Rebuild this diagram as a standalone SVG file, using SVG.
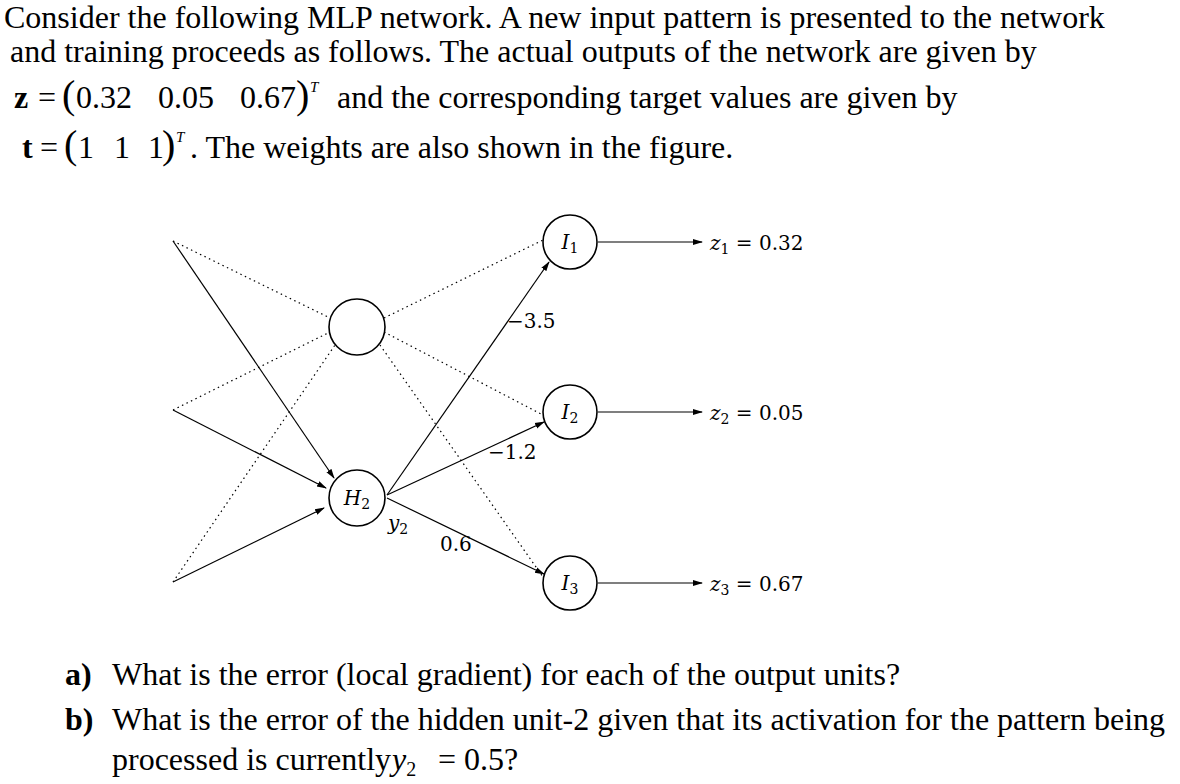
<svg xmlns="http://www.w3.org/2000/svg" width="1180" height="784" viewBox="0 0 1180 784">
<style>
.t{font-family:"Liberation Serif",serif;font-size:32px;fill:#000}
.m{font-family:"DejaVu Serif","Liberation Serif",serif;font-size:20px;fill:#000}
.n{fill:#fff;stroke:#000;stroke-width:1.6}
.s{stroke:#000;stroke-width:1.2;fill:none}
.d{stroke:#000;stroke-width:1.2;fill:none;stroke-dasharray:1.5 3.5}
</style>
<defs><marker id="a" markerWidth="10" markerHeight="8" refX="9" refY="4" orient="auto" markerUnits="userSpaceOnUse"><path d="M0,1 L10,4 L0,7 Z" fill="#000"/></marker></defs>
<rect width="1180" height="784" fill="#fff"/>
<text class="t" x="4" y="28">Consider the following MLP network. A new input pattern is presented to the network</text>
<text class="t" x="10" y="62">and training proceeds as follows. The actual outputs of the network are given by</text>
<text class="t" y="108"><tspan x="14" font-weight="bold">z</tspan><tspan x="38">=</tspan><tspan x="62" font-size="40">(</tspan><tspan x="76">0.32</tspan><tspan x="158">0.05</tspan><tspan x="240">0.67</tspan><tspan x="296" font-size="40">)</tspan><tspan x="310" font-size="15" dy="-16" font-style="italic">T</tspan><tspan x="337" dy="16">and the corresponding target values are given by</tspan></text>
<text class="t" y="158"><tspan x="22" font-weight="bold">t</tspan><tspan x="40">=</tspan><tspan x="64" font-size="40">(</tspan><tspan x="78">1</tspan><tspan x="114">1</tspan><tspan x="148">1</tspan><tspan x="162" font-size="40">)</tspan><tspan x="176" font-size="15" dy="-16" font-style="italic">T</tspan><tspan x="190" dy="16">. The weights are also shown in the figure.</tspan></text>
<g id="connectors">
<path class="d" d="M173,241 L330,318 M173,410 L330,332 M173,582 L335,345 M384,318 L543,240 M384,332 L543,415 M380,345 L543,577"/>
<path class="s" marker-end="url(#a)" d="M173,241 L334,478"/>
<path class="s" marker-end="url(#a)" d="M173,410 L326,488"/>
<path class="s" marker-end="url(#a)" d="M173,582 L324,508"/>
<path class="s" marker-end="url(#a)" d="M387,495 L549,262"/>
<path class="s" marker-end="url(#a)" d="M387,495 L544,422"/>
<path class="s" marker-end="url(#a)" d="M387,498 L544,574"/>
<path class="s" marker-end="url(#a)" d="M598,242 L702,242"/>
<path class="s" marker-end="url(#a)" d="M598,412 L702,412"/>
<path class="s" marker-end="url(#a)" d="M598,583 L702,583"/>
</g>
<g id="h1"><circle class="n" cx="357" cy="327" r="28"/></g>
<g id="H2"><circle class="n" cx="357" cy="498" r="28"/><text class="m" x="357" y="505" text-anchor="middle" font-style="italic">H<tspan font-size="14" font-style="normal" dy="4">2</tspan></text></g>
<g id="I1"><circle class="n" cx="570" cy="242" r="27"/><text class="m" x="570" y="249" text-anchor="middle" font-style="italic">I<tspan font-size="14" font-style="normal" dy="4">1</tspan></text></g>
<g id="I2"><circle class="n" cx="570" cy="412" r="27"/><text class="m" x="570" y="419" text-anchor="middle" font-style="italic">I<tspan font-size="14" font-style="normal" dy="4">2</tspan></text></g>
<g id="I3"><circle class="n" cx="570" cy="583" r="27"/><text class="m" x="570" y="590" text-anchor="middle" font-style="italic">I<tspan font-size="14" font-style="normal" dy="4">3</tspan></text></g>
<g id="labels">
<text class="m" x="507" y="328">−3.5</text>
<text class="m" x="488" y="459">−1.2</text>
<text class="m" x="388" y="530" font-style="italic">y<tspan font-size="14" font-style="normal" dy="4">2</tspan></text>
<text class="m" x="440" y="551">0.6</text>
<text class="m" x="710" y="250"><tspan font-style="italic">z</tspan><tspan font-size="14" dy="4">1</tspan><tspan dy="-4"> = 0.32</tspan></text>
<text class="m" x="710" y="420"><tspan font-style="italic">z</tspan><tspan font-size="14" dy="4">2</tspan><tspan dy="-4"> = 0.05</tspan></text>
<text class="m" x="710" y="591"><tspan font-style="italic">z</tspan><tspan font-size="14" dy="4">3</tspan><tspan dy="-4"> = 0.67</tspan></text>
</g>
<text class="t" x="65" y="685"><tspan font-weight="bold">a)</tspan><tspan x="112">What is the error (local gradient) for each of the output units?</tspan></text>
<text class="t" x="65" y="730"><tspan font-weight="bold">b)</tspan><tspan x="112">What is the error of the hidden unit-2 given that its activation for the pattern being</tspan></text>
<text class="t" y="770"><tspan x="112">processed is currently</tspan><tspan x="392" font-style="italic">y</tspan><tspan font-size="20" dy="6">2</tspan><tspan x="438" dy="-6">= 0.5?</tspan></text>
</svg>
